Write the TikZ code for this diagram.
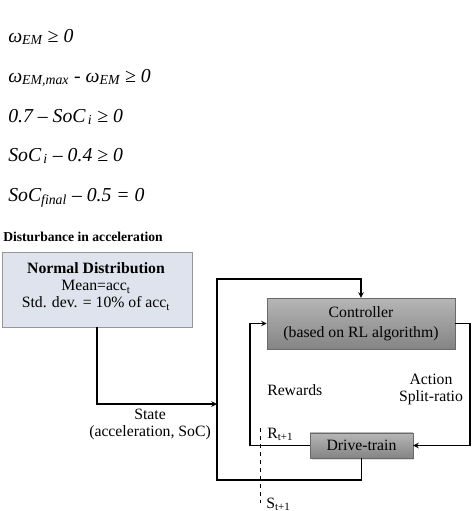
\documentclass[tikz,border=0pt]{standalone}
\usepackage{fontspec}
\setmainfont{Liberation Serif}
\usetikzlibrary{shadows}
\definecolor{boxblue}{RGB}{222,227,237}
\definecolor{boxedge}{RGB}{150,150,150}
\definecolor{greytop}{RGB}{182,182,182}
\definecolor{greybot}{RGB}{132,132,132}
\tikzset{
  eqn/.style={anchor=base west, inner sep=0pt, font=\fontsize{14.8}{18}\selectfont\itshape},
  txt/.style={inner sep=0pt, font=\fontsize{11.8}{12.8}\selectfont, align=center},
  greybox/.style={draw=greybot!80!black, line width=0.4pt, top color=greytop, bottom color=greybot,
    drop shadow={shadow xshift=1pt, shadow yshift=-1pt, opacity=0.25}},
  wire/.style={line width=0.9pt}
}
\begin{document}
\begin{tikzpicture}[x=0.75pt, y=-0.75pt, >=stealth]
  \useasboundingbox (0,0) rectangle (474,511);

  % constraints
  \node[eqn] (eq1) at (8,42) {ω\textsubscript{EM} ≥ 0};
  \node[eqn] (eq2) at (8,82) {ω\textsubscript{EM,max} - ω\textsubscript{EM} ≥ 0};
  \node[eqn] (eq3) at (8,122) {0.7 – SoC\textsubscript{\,i} ≥ 0};
  \node[eqn] (eq4) at (8,161) {SoC\textsubscript{\,i} – 0.4 ≥ 0};
  \node[eqn] (eq5) at (8,201) {SoC\textsubscript{final} – 0.5 = 0};

  % disturbance
  \node[txt, font=\fontsize{10.2}{12.5}\selectfont\bfseries, anchor=base west] (dist) at (3,241) {Disturbance in acceleration};
  \node[draw=boxedge, fill=boxblue, line width=0.5pt, minimum width=142.5pt, minimum height=56pt] (normbox) at (97,289.5) {};
  \node[txt] (normtxt) at (96,286.5) {\textbf{Normal Distribution}\\ Mean=acc\textsubscript{t}\\ Std. dev. = 10\% of acc\textsubscript{t}};

  % controller and plant
  \node[greybox, minimum width=141pt, minimum height=38pt, font=\fontsize{11.8}{15}\selectfont, align=center] (ctrl) at (361,323.5) {Controller\\(based on RL algorithm)};
  \node[greybox, minimum width=77pt, minimum height=19pt, font=\fontsize{11.8}{13}\selectfont] (dtrain) at (361.5,445.5) {Drive-train};

  % turning points
  \coordinate (sj) at (217,404);
  \coordinate (lb) at (217,480);
  \coordinate (lt) at (217,279);
  \coordinate (rw) at (250,0);
  \coordinate (ac) at (470,0);
  \coordinate (cuttop) at (260,428);
  \coordinate (cutbot) at (260,503);

  % connectors
  \draw[wire, ->] (normbox.south) |- (sj);
  \draw[wire, ->] (dtrain.south) |- (lb) -- (lt) -| (ctrl.north);
  \draw[wire, ->] (ctrl.east) -- (ctrl.east -| ac) |- (dtrain.east);
  \draw[wire, ->] (dtrain.west) -- (dtrain.west -| rw) |- (ctrl.west);
  \draw[dashed, line width=0.6pt] (cuttop) -- (cutbot);

  % labels
  \node[txt] (state) at (150,424) {State\\(acceleration, SoC)};
  \node[txt, anchor=base west] (rewards) at (267,395) {Rewards};
  \node[txt] (action) at (431,389) {Action\\Split-ratio};
  \node[txt, anchor=base west] (rt) at (267,438) {R\textsubscript{t+1}};
  \node[txt, anchor=base west] (st) at (266,508) {S\textsubscript{t+1}};
\end{tikzpicture}
\end{document}
